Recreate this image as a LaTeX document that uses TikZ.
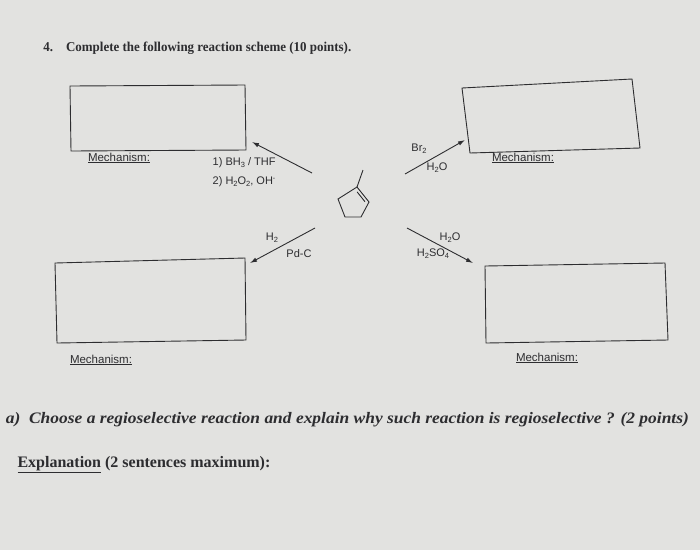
\documentclass[tikz,border=0pt]{standalone}
\usepackage{fontspec}
\setmainfont{Liberation Serif}
\setsansfont{Liberation Sans}
\usetikzlibrary{arrows.meta,calc}
\definecolor{paper}{RGB}{226,226,224}
\definecolor{ink}{RGB}{45,45,48}
\newcommand{\sbs}[1]{\raisebox{-0.3ex}{\fontsize{7.5}{8}\selectfont #1}}
\begin{document}
\begin{tikzpicture}[x=1pt,y=-1pt,
  box/.style={draw=ink,line width=0.9pt},
  rx/.style={draw=ink,line width=0.9pt,-{Latex[length=7pt,width=4.5pt]}},
  lab/.style={font=\sffamily\fontsize{11}{12}\selectfont,text=ink,inner sep=0.5pt},
  mech/.style={font=\sffamily\fontsize{11.5}{12}\selectfont,text=ink,inner sep=0.5pt},
  bond/.style={draw=ink,line width=0.9pt}]
\fill[paper] (0,0) rectangle (700,550);
\useasboundingbox (0,0) rectangle (700,550);
\node[anchor=west,font=\bfseries\fontsize{13.5}{15}\selectfont,text=ink,xscale=0.96] (title) at (40,48) {4.\quad Complete the following reaction scheme (10 points).};
% boxes
\draw[box] (70,86) -- (245,85) -- (246,150) -- (71,151) -- cycle;
\draw[box] (462,88) -- (632,79) -- (640,148) -- (470,153) -- cycle;
\draw[box] (55,263) -- (245,258) -- (246,340) -- (57,343) -- cycle;
\draw[box] (485,266) -- (665,263) -- (668,340) -- (486,343) -- cycle;
% mechanism labels
\node[mech] (m1) at (119,158) {\underline{Mechanism:}};
\node[mech] (m2) at (523,158) {\underline{Mechanism:}};
\node[mech] (m3) at (101,360) {\underline{Mechanism:}};
\node[mech] (m4) at (547,358) {\underline{Mechanism:}};
% molecule
\coordinate (a) at (357,187); \coordinate (b) at (369,202); \coordinate (c) at (361,217);
\coordinate (d) at (345,217); \coordinate (e) at (338,199); \coordinate (me) at (363,170);
\draw[bond] (a) -- (b) -- (c) -- (d) -- (e) -- cycle;
\draw[bond] (a) -- (me);
\draw[bond] ($(a)!0.2!(b)+(-2.3,1.9)$) -- ($(a)!0.85!(b)+(-2.3,1.9)$);
% arrows
\coordinate (s1) at (312,173); \coordinate (t1) at (252,142);
\coordinate (s2) at (405,174); \coordinate (t2) at (465,140);
\coordinate (s3) at (315,228); \coordinate (t3) at (250,263);
\coordinate (s4) at (407,228); \coordinate (t4) at (473,263);
\draw[rx] (s1) -- (t1);
\draw[rx] (s2) -- (t2);
\draw[rx] (s3) -- (t3);
\draw[rx] (s4) -- (t4);
% reagents
\node[lab,anchor=west] (r1) at (212,163) {1) BH\sbs{3} / THF};
\node[lab,anchor=west] (r2) at (212,182) {2) H\sbs{2}O\sbs{2}, OH\raisebox{0.8ex}{\fontsize{7}{8}\selectfont -}};
\node[lab] (r3) at (419,149) {Br\sbs{2}};
\node[lab] (r4) at (437,168) {H\sbs{2}O};
\node[lab] (r5) at (272,238) {H\sbs{2}};
\node[lab] (r6) at (299,254) {Pd-C};
\node[lab] (r7) at (450,238) {H\sbs{2}O};
\node[lab] (r8) at (433,254) {H\sbs{2}SO\sbs{4}};
% question
\node[anchor=west,font=\bfseries\itshape\fontsize{16}{18}\selectfont,text=ink,xscale=1.09] (q) at (2,420) {a)\ \ Choose a regioselective reaction and explain why such reaction is regioselective ? (2 points)};
\node[anchor=west,font=\bfseries\fontsize{16}{18}\selectfont,text=ink,xscale=1.0] (ex) at (14,465) {\underline{Explanation} (2 sentences maximum):};
\end{tikzpicture}
\end{document}
